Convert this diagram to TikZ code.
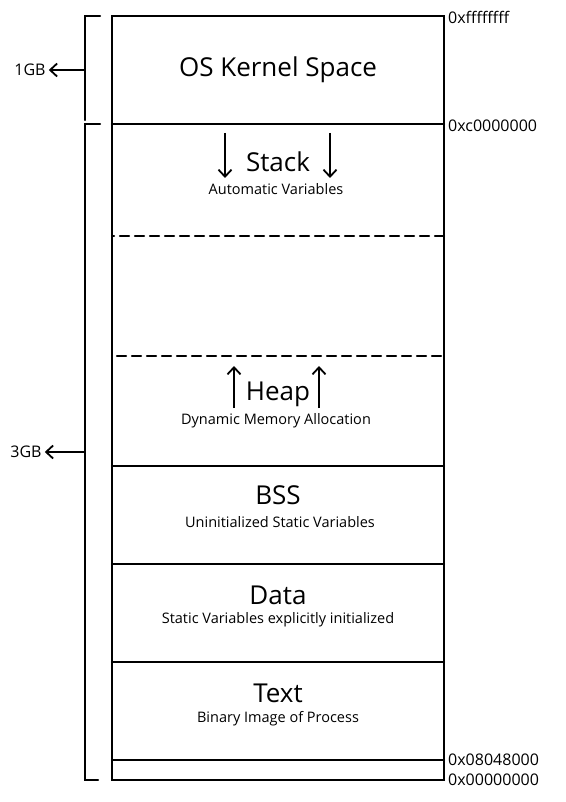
\documentclass[tikz,border=0pt]{standalone}
\usepackage{fontspec}
\setmainfont{Open Sans}
\usepackage{tikz}
\usetikzlibrary{arrows.meta, positioning, calc}

\tikzset{
    wall/.style={line width=2.2pt, line cap=round},
    growline/.style={dash pattern=on 9pt off 6pt},
    title/.style={font=\fontsize{26}{28}\selectfont},
    note/.style={font=\fontsize{14.5}{16}\selectfont},
    addr/.style={anchor=west, inner sep=1pt, font=\fontsize{16}{18}\selectfont},
    sizelabel/.style={inner sep=1pt, font=\fontsize{16}{18}\selectfont},
    dirarrow/.style={->, line width=1.8pt},
}

\begin{document}
\begin{tikzpicture}[x=1pt,y=-1pt,>={Straight Barb[length=7pt,width=13pt]}]
            \useasboundingbox (0,0) rectangle (565,802);

            % memory layout
            \draw[wall] (112,16) rectangle (444,780);
            \foreach \y in {124,466,564,662,760}
                \draw[wall] (112,\y) -- (444,\y);
            \draw[wall,growline] (112,124) rectangle (444,236);
            \draw[wall,growline] (112,356) rectangle (444,466);

            % segments
            \node[title] (kernel) at (278,70) {OS Kernel Space};
            \node[title] (stack) at (278,162) {Stack};
            \node[note] (stacknote) at (276,189) {Automatic Variables};
            \node[title] (heap) at (278,394) {Heap};
            \node[note] (heapnote) at (276,421) {Dynamic Memory Allocation};
            \node[title] (bss) at (278,495) {BSS};
            \node[note] (bssnote) at (280,522) {Uninitialized Static Variables};
            \node[title] (data) at (278,595) {Data};
            \node[note] (datanote) at (278,620) {Static Variables explicitly initialized};
            \node[title] (text) at (278,693) {Text};
            \node[note] (textnote) at (278,719) {Binary Image of Process};

            % growth arrows
            \coordinate (sl0) at (225,133); \coordinate (sl1) at (225,178);
            \coordinate (sr0) at (330,133); \coordinate (sr1) at (330,178);
            \coordinate (hl0) at (234,408); \coordinate (hl1) at (234,366);
            \coordinate (hr0) at (319,408); \coordinate (hr1) at (319,366);
            \draw[dirarrow] (sl0) -- (sl1);
            \draw[dirarrow] (sr0) -- (sr1);
            \draw[dirarrow] (hl0) -- (hl1);
            \draw[dirarrow] (hr0) -- (hr1);

            % addresses
            \node[addr] (top) at (447,17) {0xffffffff};
            \node[addr] (kbase) at (447,126) {0xc0000000};
            \node[addr] (tbase) at (447,760) {0x08048000};
            \node[addr] (zero) at (447,780) {0x00000000};

            % brackets
            \draw[wall] (100,16) -- (85,16) -- (85,120);
            \draw[wall] (100,124) -- (85,124) -- (85,780) -- (98,780);
            \coordinate (kmid) at (85,70);
            \coordinate (umid) at (85,452);
            \node[sizelabel] (kgb) at (30,70) {1GB};
            \node[sizelabel] (ugb) at (26,452) {3GB};
            \draw[dirarrow,shorten >=2pt] (kmid) -- (kgb);
            \draw[dirarrow,shorten >=2pt] (umid) -- (ugb);
        \end{tikzpicture}
\end{document}
